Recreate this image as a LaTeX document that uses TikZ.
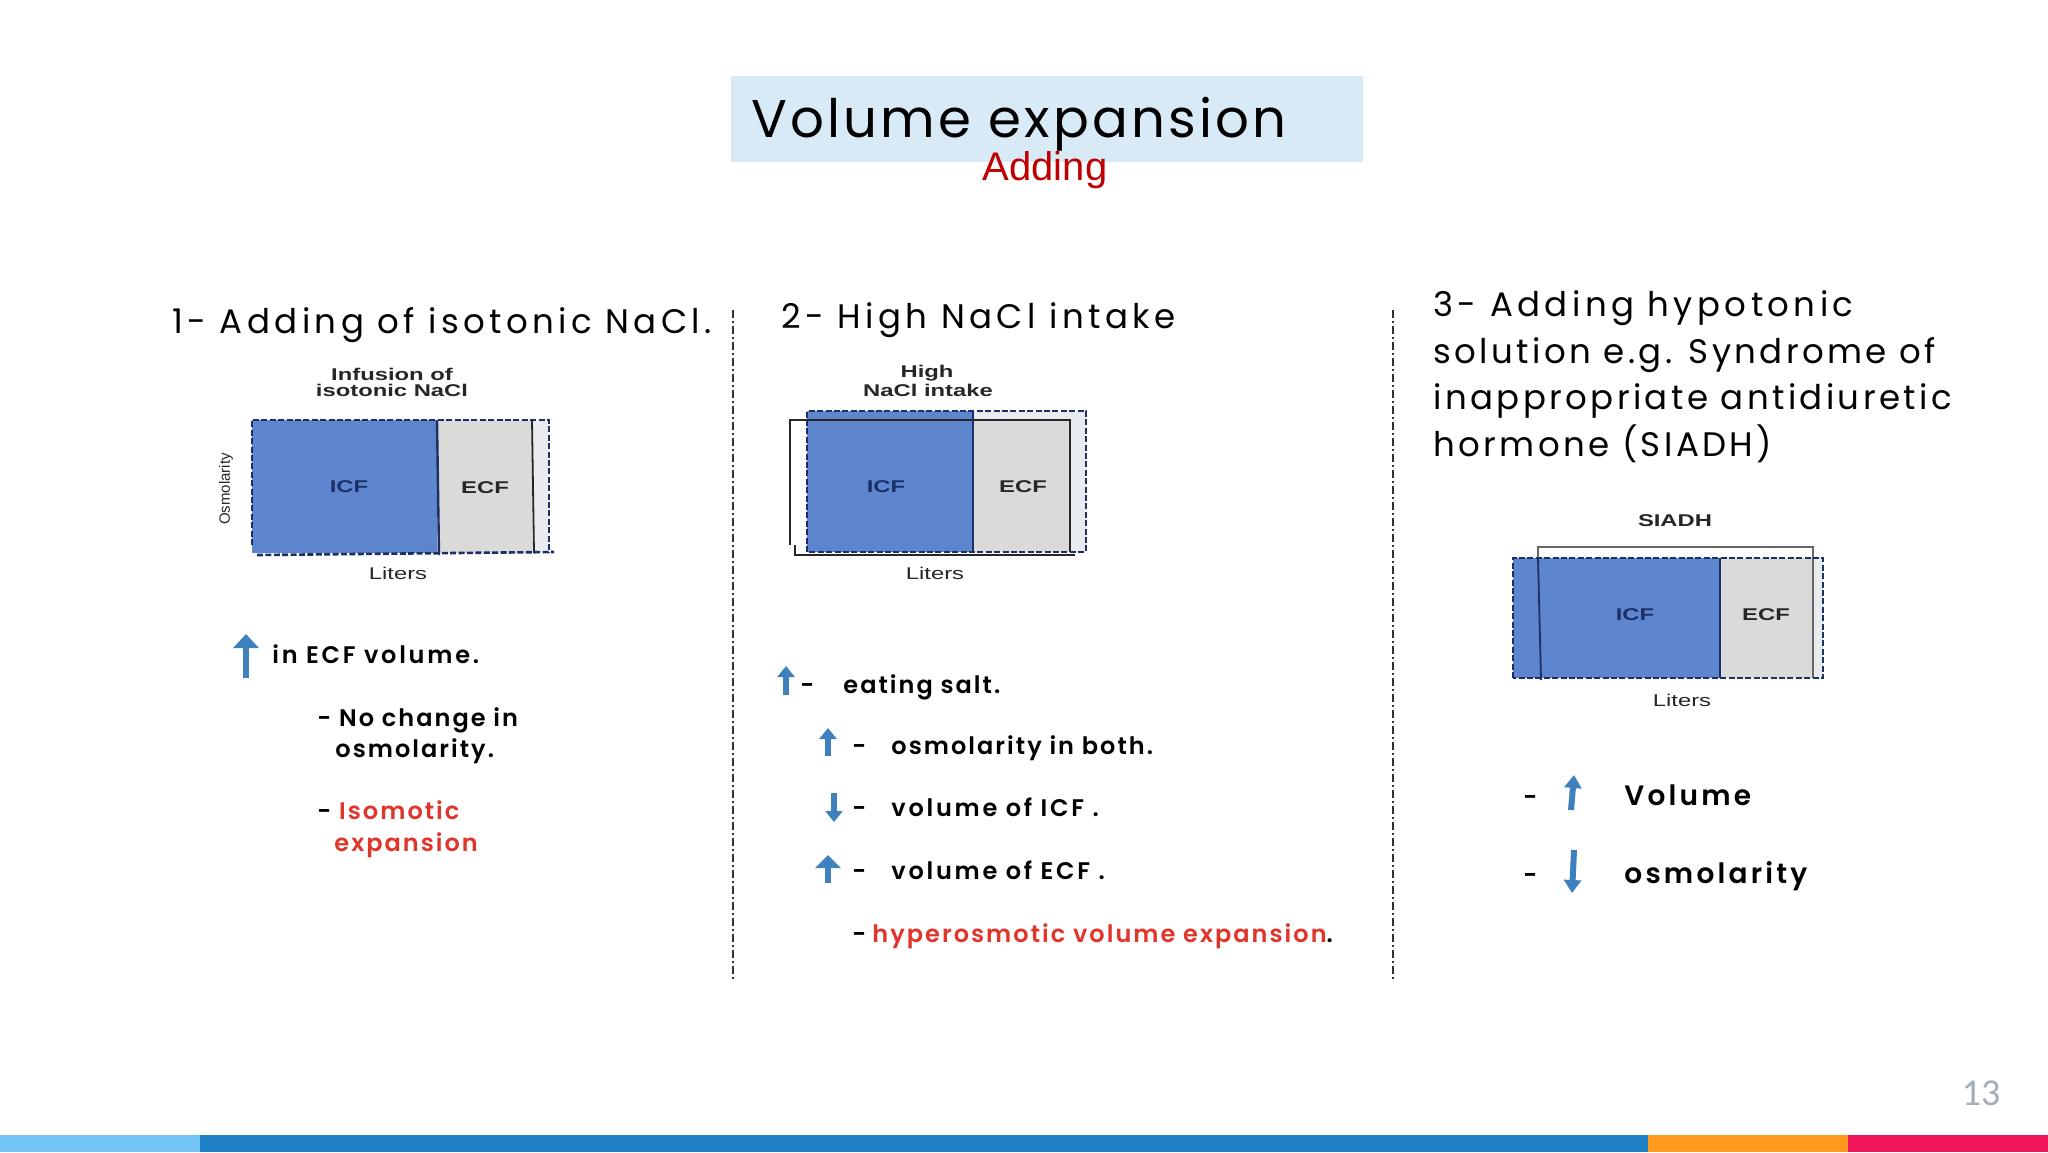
\documentclass[tikz,border=0pt]{standalone}
\usepackage{fontspec}
\setmainfont{Poppins}
\newfontfamily\titlefont[LetterSpace=6]{Poppins}
\newfontfamily\headfont[LetterSpace=10]{Poppins}
\newfontfamily\wideheadfont[LetterSpace=13]{Poppins}
\newfontfamily\itemfont[LetterSpace=8.5,BoldFont={Poppins SemiBold}]{Poppins}
\newfontfamily\wideitemfont[LetterSpace=11.5,BoldFont={Poppins SemiBold}]{Poppins}
\newfontfamily\plotfont[FakeStretch=1.4]{Liberation Sans}
\newfontfamily\arialfont{Liberation Sans}
\newfontfamily\pagefont{Carlito}
\usetikzlibrary{arrows.meta}

\definecolor{bandblue}{HTML}{D7EAF5}
\definecolor{icfblue}{HTML}{5D86CE}
\definecolor{ecfgrey}{HTML}{DADAD8}
\definecolor{palegrey}{HTML}{E9EBEF}
\definecolor{navy}{HTML}{1C2F66}
\definecolor{arrowblue}{HTML}{3F80BE}
\definecolor{redtext}{HTML}{E0352B}
\definecolor{addred}{HTML}{C00000}
\definecolor{footsky}{HTML}{73C5F5}
\definecolor{footblue}{HTML}{2080C6}
\definecolor{footorange}{HTML}{FF9A1F}
\definecolor{footpink}{HTML}{EE1559}
\definecolor{pagegrey}{HTML}{A3AEB8}

\tikzset{
  headtext/.style={inner sep=0, anchor=base west, font=\headfont\fontsize{17}{20}\selectfont},
  widehead/.style={inner sep=0, anchor=base west, font=\wideheadfont\fontsize{17}{20}\selectfont},
  itemtext/.style={inner sep=0, anchor=base west, font=\itemfont\fontsize{12}{14}\selectfont\bfseries},
  wideitem/.style={inner sep=0, anchor=base west, font=\wideitemfont\fontsize{12}{14}\selectfont\bfseries},
  bigitem/.style={inner sep=0, anchor=base west, font=\wideitemfont\fontsize{14}{16}\selectfont\bfseries},
  plotlabel/.style={inner sep=0, font=\plotfont\fontsize{8.5}{10}\selectfont\bfseries, text=black!85},
  literslabel/.style={inner sep=0, font=\plotfont\fontsize{8.5}{10}\selectfont, text=black!85},
  dashbox/.style={navy, line width=1.3pt, dash pattern=on 3pt off 1.2pt},
  solidbox/.style={black!85, line width=0.9pt},
  blockarrow/.style={arrowblue, line width=3.4pt, -{Triangle[width=12.5pt,length=7pt]}},
  smallarrow/.style={arrowblue, line width=3.2pt, -{Triangle[width=8.5pt,length=5.5pt]}},
  thirdarrow/.style={arrowblue, line width=3pt, -{Triangle[width=8.5pt,length=6.5pt]}},
  divider/.style={black!80, line width=0.9pt, dash pattern=on 4pt off 1.5pt on 1pt off 1.5pt},
}

\begin{document}
\begin{tikzpicture}[x=0.5pt,y=-0.5pt]
\useasboundingbox (0,0) rectangle (2048,1152);
\fill[white] (0,0) rectangle (2048,1152);

% title
\fill[bandblue] (731,76) rectangle (1363,162);
\node[inner sep=0, anchor=base west, font=\titlefont\fontsize{26.5}{30}\selectfont] (title) at (751,137) {Volume expansion};
\node[inner sep=0, text=addred, font=\arialfont\fontsize{20}{24}\selectfont] (adding) at (1045,170) {Adding};

% column dividers
\draw[divider] (733,310) -- (733,980);
\draw[divider] (1393,310) -- (1393,980);

% first column
\node[widehead] (headone) at (172,333) {1- Adding of isotonic NaCl.};
\fill[palegrey] (532,420) rectangle (549,552);
\fill[icfblue] (252,420) rectangle (437,553);
\fill[ecfgrey] (437,420) rectangle (532,553);
\draw[solidbox] (532,420) -- (534,553);
\draw[dashbox] (252,545) -- (252,420) -- (549,420) -- (549,553);
\draw[dashbox] (257,555) -- (554,552);
\draw[navy, line width=1.2pt] (437,420) -- (439,555);
\node[plotlabel] (infusion) at (392,374) {Infusion of};
\node[plotlabel] (isotonic) at (392,390) {isotonic NaCl};
\node[plotlabel, font=\arialfont\fontsize{7.5}{9}\selectfont, rotate=90] (osmol) at (226,489) {Osmolarity};
\node[plotlabel, text=navy] (icfone) at (349,487) {ICF};
\node[plotlabel] (ecfone) at (485,488) {ECF};
\node[literslabel] (litersone) at (398,573) {Liters};

\draw[blockarrow] (246,678) -- (246,634);
\node[wideitem] (ecfvol) at (272,663) {in ECF volume.};
\node[itemtext] (nochange) at (317,726) {- No change in};
\node[itemtext] (osmolone) at (335,757) {osmolarity.};
\node[itemtext, text=redtext] (isomotic) at (317,819) {\textcolor{black}{-} Isomotic};
\node[itemtext, text=redtext] (expansion) at (334,851) {expansion};

% second column
\node[widehead] (headtwo) at (781,328) {2- High NaCl intake};
\fill[palegrey] (973,411) rectangle (1086,552);
\fill[icfblue] (807,411) rectangle (973,552);
\fill[ecfgrey] (973,420) rectangle (1070,552);
\draw[solidbox] (790,545) -- (790,420) -- (1070,420) -- (1070,552);
\draw[solidbox] (795,545) -- (795,555) -- (1075,555);
\draw[dashbox] (807,552) -- (807,411) -- (1086,411) -- (1086,552) -- (807,552);
\draw[navy, line width=1.2pt] (973,411) -- (973,552);
\node[plotlabel] (high) at (927,373) {High};
\node[plotlabel] (intake) at (928,390) {NaCl intake};
\node[plotlabel, text=navy] (icftwo) at (886,487) {ICF};
\node[plotlabel] (ecftwo) at (1023,487) {ECF};
\node[literslabel] (literstwo) at (935,573) {Liters};

\draw[smallarrow] (786,695) -- (786,666);
\node[itemtext] (dashone) at (800,693) {-};
\node[itemtext] (eating) at (843,693) {eating salt.};
\draw[smallarrow] (828,756) -- (828,728);
\node[itemtext] (dashtwo) at (852,754) {-};
\node[itemtext] (both) at (891,754) {osmolarity in both.};
\draw[smallarrow] (834,793) -- (834,822);
\node[itemtext] (dashthree) at (852,816) {-};
\node[wideitem] (icfvol) at (891,816) {volume of ICF .};
\draw[smallarrow, -{Triangle[width=12.5pt,length=6.5pt]}] (828,883) -- (828,855);
\node[itemtext] (dashfour) at (852,879) {-};
\node[wideitem] (ecfvoltwo) at (891,879) {volume of ECF .};
\node[itemtext] (dashfive) at (852,942) {-};
\node[itemtext, text=redtext] (hyper) at (872,942) {hyperosmotic volume expansion\textcolor{black}{.}};

% third column
\node[widehead] (headthreea) at (1433,316) {3- Adding hypotonic};
\node[headtext] (headthreeb) at (1433,363) {solution e.g. Syndrome of};
\node[headtext] (headthreec) at (1433,409) {inappropriate antidiuretic};
\node[headtext] (headthreed) at (1433,456) {hormone (SIADH)};
\fill[icfblue] (1513,558) rectangle (1720,678);
\fill[palegrey] (1720,558) rectangle (1823,678);
\fill[ecfgrey] (1720,558) rectangle (1813,678);
\draw[black!60, line width=0.7pt] (1538,558) -- (1538,547) -- (1813,547) -- (1813,678);
\draw[solidbox, navy] (1538,558) -- (1541,680);
\draw[dashbox] (1513,678) -- (1513,558) -- (1823,558) -- (1823,678) -- (1513,678);
\draw[navy, line width=1.2pt] (1720,558) -- (1720,678);
\node[plotlabel] (siadh) at (1675,521) {SIADH};
\node[plotlabel, text=navy] (icfthree) at (1635,615) {ICF};
\node[plotlabel] (ecfthree) at (1766,615) {ECF};
\node[literslabel] (litersthree) at (1682,700) {Liters};

\node[itemtext] (dashsix) at (1523,805) {-};
\draw[thirdarrow] (1571,810) -- (1574,775);
\node[bigitem] (volume) at (1624,805) {Volume};
\node[itemtext] (dashseven) at (1523,883) {-};
\draw[thirdarrow] (1574,850) -- (1572,893);
\node[bigitem] (osmolthree) at (1624,883) {osmolarity};

% footer
\fill[footsky] (0,1135) rectangle (200,1152);
\fill[footblue] (200,1135) rectangle (1648,1152);
\fill[footorange] (1648,1135) rectangle (1848,1152);
\fill[footpink] (1848,1135) rectangle (2048,1152);
\node[inner sep=0, text=pagegrey, font=\pagefont\fontsize{19}{22}\selectfont] (pagenum) at (1981,1093) {13};
\end{tikzpicture}
\end{document}
